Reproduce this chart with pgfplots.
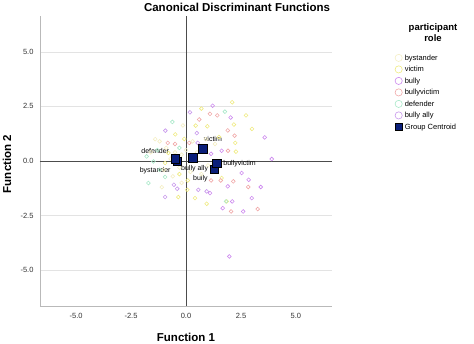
\documentclass[border=0pt]{standalone}
\usepackage{pgfplots}
\pgfplotsset{compat=1.18}
\usepackage{fontspec}
\setmainfont{Liberation Sans}
\definecolor{cBys}{HTML}{F4EEC4}
\definecolor{cVic}{HTML}{EEEA80}
\definecolor{cBul}{HTML}{CC88EE}
\definecolor{cBV}{HTML}{F0A8A8}
\definecolor{cDef}{HTML}{A8E8C8}
\definecolor{cBA}{HTML}{C898EC}
\definecolor{cCen}{HTML}{0B1F7A}
\begin{document}
\begin{tikzpicture}[x=1pt,y=1pt]
\path[use as bounding box] (0,0) rectangle (474,343);
\begin{axis}[
  at={(40pt,37pt)}, anchor=south west,
  width=292pt, height=290pt, scale only axis,
  xmin=-6.64, xmax=6.64, ymin=-6.64, ymax=6.64,
  axis x line=bottom, axis y line=left,
  axis line style={draw=gray!55, line width=0.8pt, -},
  xtick={-5,-2.5,0,2.5,5}, ytick={-5,-2.5,0,2.5,5},
  major tick length=0pt,
  /pgf/number format/assume math mode=true,
  /pgf/number format/.cd, fixed, fixed zerofill, precision=1, /pgfplots/.cd,
  ticklabel style={font=\fontsize{7.5}{8}\selectfont, text=black!80},
  xticklabel style={yshift=-4pt},
  yticklabel style={xshift=-3pt},
  ymajorgrids, grid style={gray!22, line width=0.6pt},
  legend style={at={(rel axis cs:1.205,0.88)}, anchor=north west, draw=none, fill=none,
    font=\fontsize{7.5}{8}\selectfont, row sep=1.7pt,
    nodes={inner ysep=1pt, inner xsep=2.5pt, text height=6pt, text depth=1.8pt}},
  legend cell align=left,
  legend image code/.code={\draw[#1, mark size=3.6pt] plot coordinates {(3pt,0pt)};},
]
\draw[black!70, line width=0.8pt] (axis cs:0,-6.64) -- (axis cs:0,6.64);
\draw[black!70, line width=0.8pt] (axis cs:-6.64,0) -- (axis cs:6.64,0);

% bystander
\addplot[only marks, mark=o, mark size=1.9pt, draw=cBys, line width=0.6pt] table {
x y
-0.14 1.63
1.32 0.78
-0.20 0.29
-1.20 0.90
-0.70 0.10
-1.00 -0.40
0.20 -0.50
-0.60 -0.70
0.50 0.40
-1.40 1.00
-0.30 -0.30
0.90 1.00
-0.90 0.60
0.00 0.50
-1.60 0.40
0.70 -0.60
-0.20 -1.00
1.00 -0.20
-1.10 -1.20
0.30 0.90
-0.50 0.40
};
\addlegendentry{bystander}
% victim
\addplot[only marks, mark=o, mark size=1.9pt, draw=cVic, line width=0.6pt] table {
x y
2.10 2.69
2.73 2.09
0.44 1.62
0.97 1.59
2.18 1.67
-0.49 1.22
3.00 1.47
-0.08 1.01
2.24 0.83
2.27 0.43
-0.80 0.37
-0.95 -0.09
1.62 -0.78
0.08 -0.89
-0.35 -1.65
0.06 -1.32
0.41 -1.70
0.94 -1.96
1.85 -1.85
0.70 2.40
1.50 1.10
-0.30 -0.60
};
\addlegendentry{victim}
% bully
\addplot[only marks, mark=o, mark size=1.9pt, draw=cBul, line width=0.6pt] table {
x y
1.21 2.53
2.03 1.99
3.58 1.08
1.62 0.47
1.14 0.33
2.53 -0.55
2.85 -0.86
1.90 -1.16
3.40 -1.19
1.09 -1.47
2.99 -1.70
2.10 -1.85
1.67 -2.16
2.60 -2.31
1.97 -4.37
3.90 0.09
};
\addlegendentry{bully}
% bullyvictim
\addplot[only marks, mark=o, mark size=1.9pt, draw=cBV, line width=0.6pt] table {
x y
1.09 2.16
1.42 2.09
0.60 1.90
1.90 1.40
2.21 1.16
0.15 0.83
1.91 0.47
2.15 -0.93
2.83 -1.19
1.14 -0.89
1.58 -0.89
2.05 -2.31
3.26 -2.20
-0.83 0.83
-0.50 0.78
};
\addlegendentry{bullyvictim}
% defender
\addplot[only marks, mark=o, mark size=1.9pt, draw=cDef, line width=0.6pt] table {
x y
1.77 2.26
-0.62 1.79
-1.79 0.21
-1.48 -0.02
1.82 -1.85
-1.71 -1.01
-0.95 -0.73
-1.30 0.50
-0.30 0.60
-1.20 -0.40
};
\addlegendentry{defender}
% bully ally
\addplot[only marks, mark=o, mark size=1.9pt, draw=cBA, line width=0.6pt] table {
x y
0.18 2.23
-0.94 1.39
0.49 1.28
0.53 0.83
-0.55 -1.09
-0.40 -1.27
0.56 -1.32
0.94 -1.39
-0.95 -1.65
};
\addlegendentry{bully ally}
% centroids
\addplot[only marks, mark=square*, mark size=4.3pt, draw=black, fill=cCen, line width=0.5pt] table {
x y
-0.40 -0.02
0.77 0.56
1.29 -0.37
1.39 -0.10
-0.49 0.09
0.30 0.14
};
\addlegendentry{Group Centroid}

\begin{scope}[every node/.style={font=\fontsize{7}{8}\selectfont, inner sep=0pt}]
\node at (axis cs:0.77,0.56) [xshift=10pt, yshift=10pt] {victim};
\node at (axis cs:-0.49,0.09) [xshift=-20pt, yshift=8pt] {defender};
\node at (axis cs:-0.40,-0.02) [xshift=-22pt, yshift=-9pt] {bystander};
\node at (axis cs:0.30,0.14) [xshift=2pt, yshift=-11pt] {bully ally};
\node at (axis cs:1.29,-0.37) [xshift=-14pt, yshift=-10pt] {bully};
\node at (axis cs:1.39,-0.10) [xshift=23pt, yshift=-1pt] {bullyvictim};
\end{scope}
\end{axis}
\node[font=\bfseries\fontsize{11.5}{13}\selectfont] at (237,336) {Canonical Discriminant Functions};
\node[font=\bfseries\fontsize{11.5}{13}\selectfont] at (186,6) {Function 1};
\node[font=\bfseries\fontsize{11.5}{13}\selectfont, rotate=90] at (7,179) {Function 2};
\node[font=\bfseries\fontsize{9.5}{11}\selectfont, align=center] at (433,310.5) {participant\\role};
\end{tikzpicture}
\end{document}
